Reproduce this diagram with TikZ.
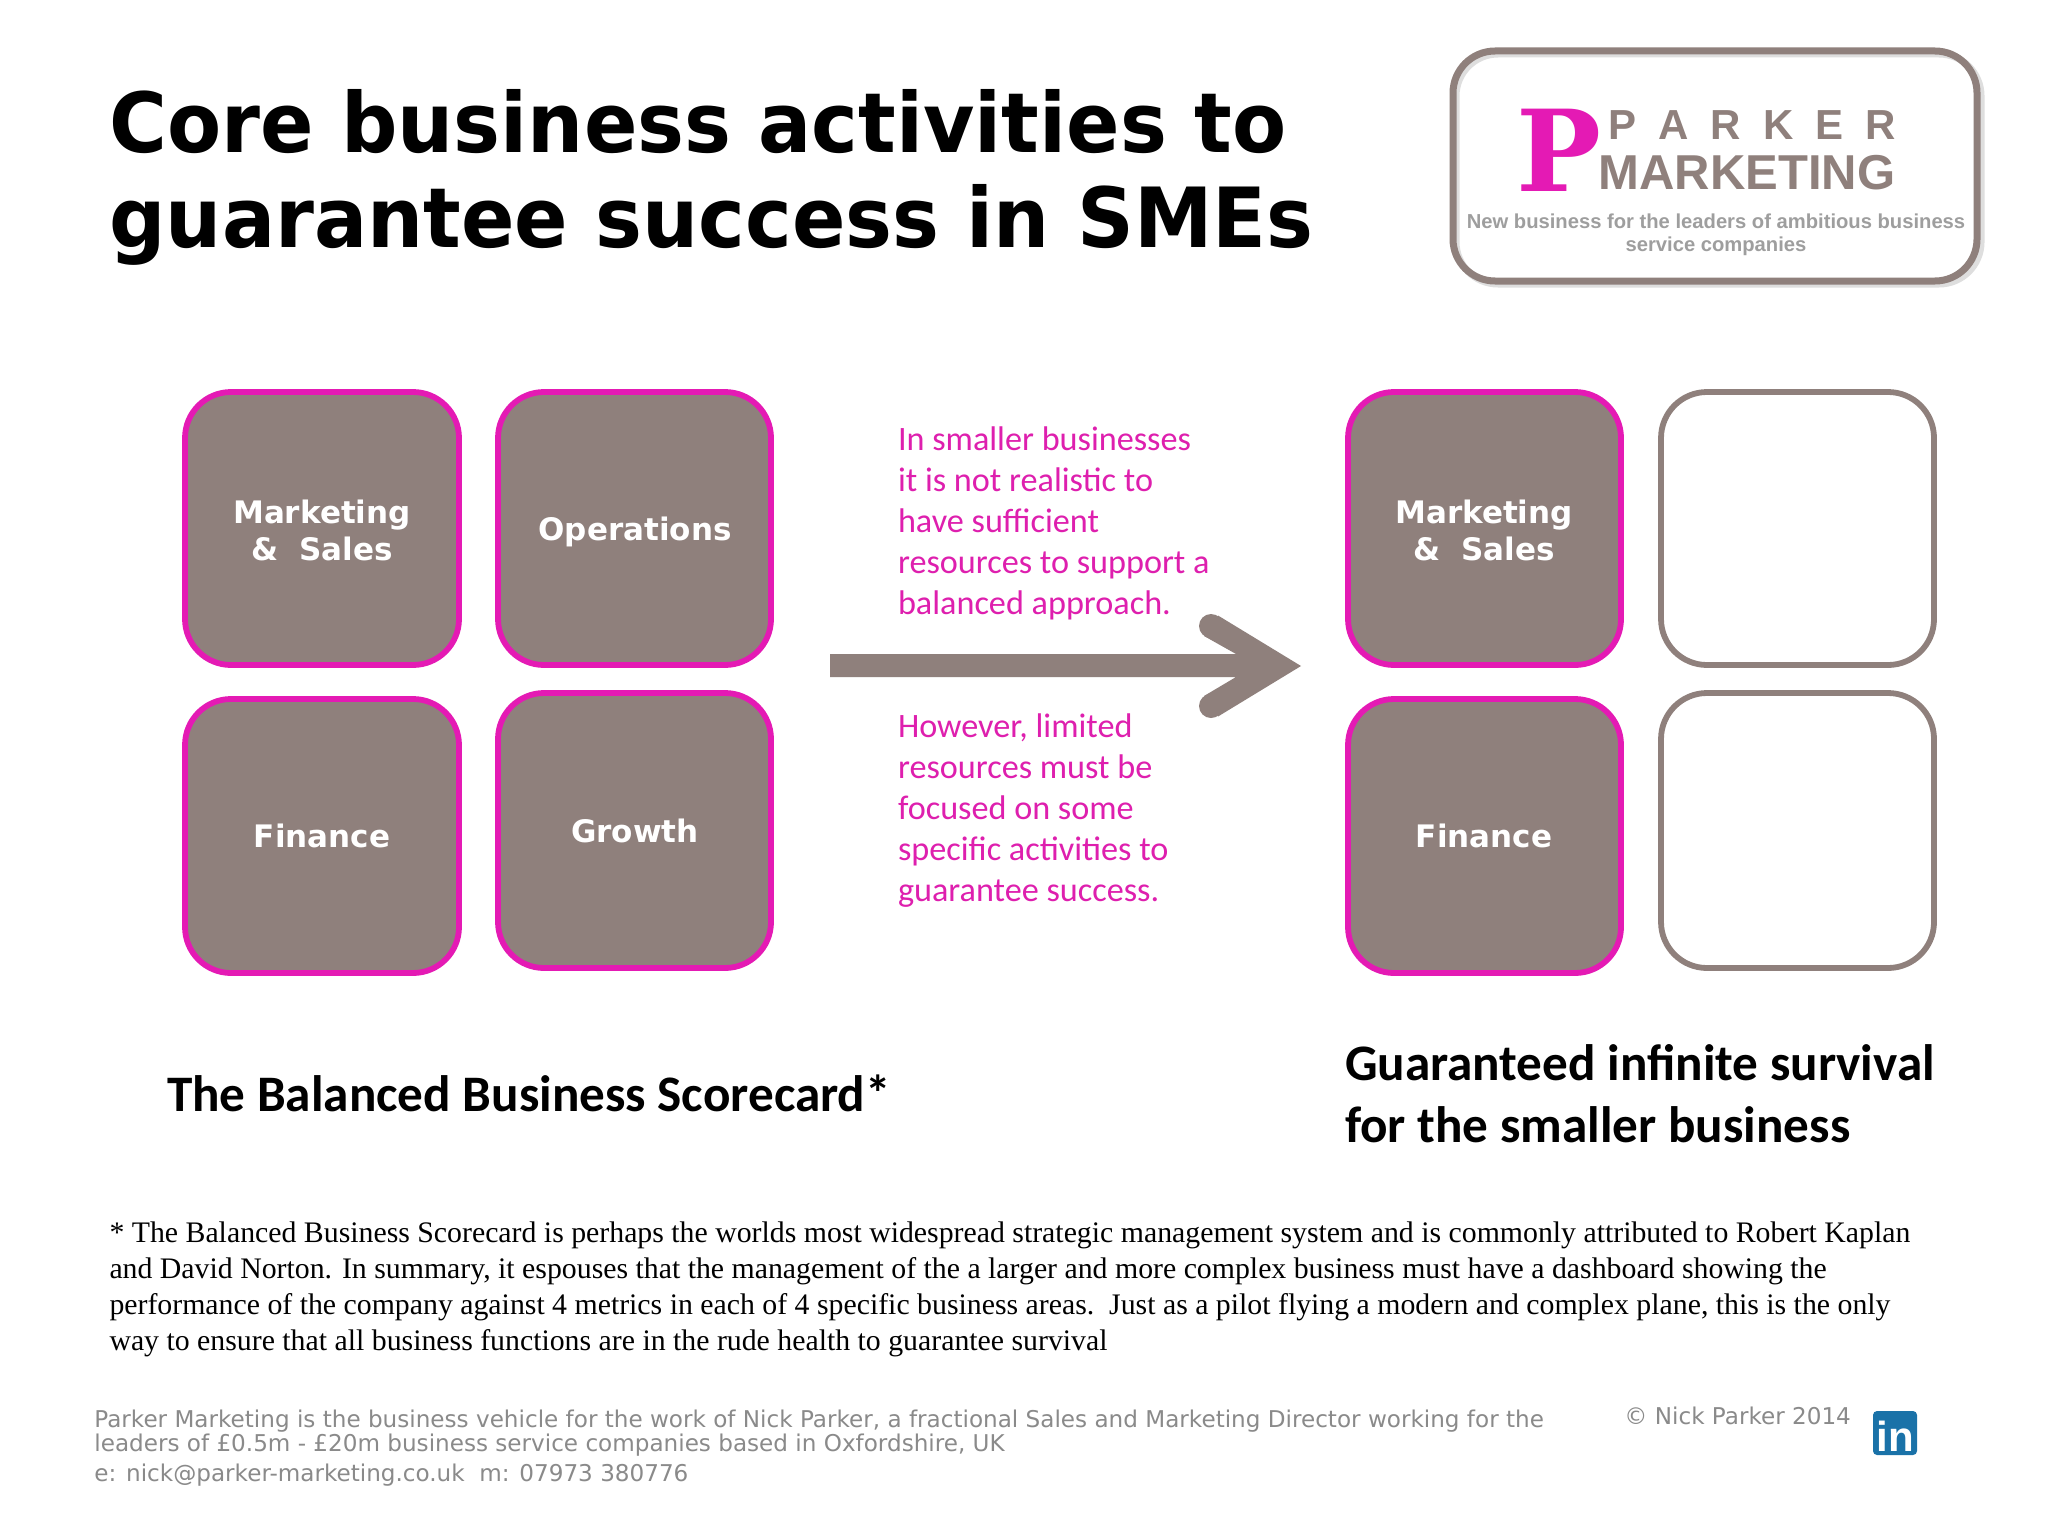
\documentclass[tikz,border=0pt]{standalone}
\usepackage{fontspec}
\setmainfont{Liberation Serif}
\newfontfamily\djvfam{DejaVu Sans}
\newfontfamily\titlefam[FakeStretch=0.95]{DejaVu Sans}
\newfontfamily\crlfam{Carlito}
\newfontfamily\lbsfam{Liberation Sans}
\newfontfamily\slabfam{DejaVu Serif}
\definecolor{pgrey}{HTML}{8F807C}
\definecolor{pmag}{HTML}{E41AB4}
\definecolor{tmag}{HTML}{DE1FAE}
\definecolor{ftgrey}{HTML}{8A8A8A}
\definecolor{lnk}{HTML}{1A72A8}
\newcommand{\fsz}[2]{\fontsize{#1}{#2}\selectfont}
\tikzset{
 x=0.5pt,y=-0.5pt,
 txt/.style={inner sep=0pt,outer sep=0pt,anchor=north west,align=left},
 card/.style={line width=2.9pt,rounded corners=23pt},
 filled/.style={card,draw=pmag,fill=pgrey},
 empty/.style={card,draw=pgrey,fill=white},
 lab/.style={inner sep=0pt,align=center,text=white,font=\djvfam\bfseries\fsz{15.5}{18.5}},
 mag/.style={txt,text=tmag,font=\crlfam\fsz{17.1}{20.5}},
 head/.style={txt,text=black,font=\crlfam\bfseries\fsz{25.6}{31}},
 foot/.style={inner sep=0pt,anchor=base west,text=ftgrey,font=\djvfam\fsz{11.55}{14}},
}
\begin{document}
\begin{tikzpicture}
\useasboundingbox (0,0) rectangle (2048,1536);
\fill[white] (0,0) rectangle (2048,1536);
% title
\node[txt,anchor=base west,font=\titlefam\bfseries\fsz{41.5}{48}] (t1) at (109.5,152.5) {Core business activities to};
\node[txt,anchor=base west,font=\titlefam\bfseries\fsz{41.5}{48}] (t2) at (109.5,247.5) {guarantee success in SMEs};
% logo
\draw[line width=3.5pt,draw=black!13,rounded corners=21pt] (1456,54) rectangle (1981,284);
\draw[line width=3.5pt,draw=pgrey,rounded corners=21pt] (1453,51) rectangle (1977,281);
\node[inner sep=0,anchor=base west,text=pmag,font=\slabfam\bfseries\fsz{56.5}{60}] (lp) at (1516,191) {P};
\node[inner sep=0,anchor=base west,text=pgrey,font=\lbsfam\bfseries\fsz{21}{24}] (lpk) at (1608,140) {P\hspace{11pt}A\hspace{11pt}R\hspace{11pt}K\hspace{11pt}E\hspace{11pt}R};
\node[inner sep=0,anchor=base west,text=pgrey,font=\lbsfam\bfseries\fsz{24.5}{27}] (lmk) at (1598,189) {MARKETING};
\node[inner sep=0,anchor=base,align=center,text=black!38,font=\lbsfam\bfseries\fsz{10.1}{11.8}] (lt1) at (1716,228) {New business for the leaders of ambitious business};
\node[inner sep=0,anchor=base,text=black!38,font=\lbsfam\bfseries\fsz{10.1}{11.8}] (lt2) at (1716,251) {service companies};
% left cards
\draw[filled] (185,392) rectangle (459,665);
\draw[filled] (498,392) rectangle (771,665);
\draw[filled] (185,699) rectangle (459,973);
\draw[filled] (498,693) rectangle (771,968);
\node[lab] (a) at (322,530) {Marketing\\\&\ \ Sales};
\node[lab] (b) at (635,532) {Operations};
\node[lab] (c) at (322,836) {Finance};
\node[lab] (d) at (635,831) {Growth};
% right cards
\draw[filled] (1348,392) rectangle (1621,665);
\draw[empty] (1661,392) rectangle (1934,665);
\draw[filled] (1348,699) rectangle (1621,973);
\draw[empty] (1661,693) rectangle (1934,968);
\node[lab] (e) at (1484,530) {Marketing\\\&\ \ Sales};
\node[lab] (f) at (1484,836) {Finance};
% arrow
\fill[pgrey] (830,654) -- (1236,654) -- (1204,636) -- (1218,615.5) -- (1301,666) -- (1218,716.5) -- (1204,696) -- (1236,677) -- (830,677) -- cycle;
\fill[pgrey] (1211,626) circle[radius=12];
\fill[pgrey] (1211,706) circle[radius=12];
% magenta text
\node[mag] (m1) at (898,427) {In smaller businesses\\it is not realistic to\\have sufficient\\resources to support a\\balanced approach.};
\node[mag] (m2) at (898,714) {However, limited\\resources must be\\focused on some\\specific activities to\\guarantee success.};
% headings
\node[head] (h1) at (167,1075) {The Balanced Business Scorecard*};
\node[head] (h2) at (1345,1044) {Guaranteed infinite survival\\for the smaller business};
% footnote
\node[txt,font=\fsz{14.9}{18}] (n) at (109.5,1222) {* The Balanced Business Scorecard is perhaps the worlds most widespread strategic management system and is commonly attributed to Robert Kaplan\\and David Norton. In summary, it espouses that the management of the a larger and more complex business must have a dashboard showing the\\performance of the company against 4 metrics in each of 4 specific business areas.\ \ Just as a pilot flying a modern and complex plane, this is the only\\way to ensure that all business functions are in the rude health to guarantee survival};
% footer
\node[foot] (f1) at (94,1427) {Parker Marketing is the business vehicle for the work of Nick Parker, a fractional Sales and Marketing Director working for the};
\node[foot] (f2) at (94,1451) {leaders of £0.5m - £20m business service companies based in Oxfordshire, UK};
\node[foot] (f3) at (94,1481) {e: nick@parker-marketing.co.uk\ \ m: 07973 380776};
\node[foot] (f4) at (1624,1424) {© Nick Parker 2014};
% linkedin
\fill[lnk,rounded corners=2pt] (1873,1411) rectangle (1917,1455);
\node[inner sep=0,text=white,font=\lbsfam\bfseries\fsz{21}{24}] (li) at (1895,1436) {in};
\end{tikzpicture}
\end{document}
